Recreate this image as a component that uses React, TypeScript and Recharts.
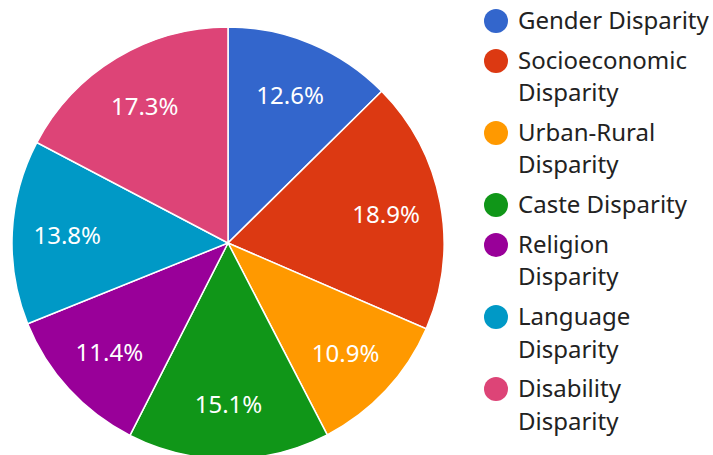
import { PieChart, Pie, Cell } from "recharts";

const categories = [
  "Gender Disparity",
  "Socioeconomic Disparity",
  "Urban-Rural Disparity",
  "Caste Disparity",
  "Religion Disparity",
  "Language Disparity",
  "Disability Disparity",
];
const shares = [12.6, 18.9, 10.9, 15.1, 11.4, 13.8, 17.3];
const colors = ["#3366cc", "#dc3912", "#ff9900", "#109618", "#990099", "#0099c6", "#dd4477"];

const data = categories.map((name, i) => ({ name, value: shares[i] }));

const RAD = Math.PI / 180;

function SliceLabel(props: any) {
  const { cx, cy, midAngle, outerRadius, value } = props;
  const r = outerRadius * 0.745;
  const x = cx + r * Math.cos(-midAngle * RAD);
  const y = cy + r * Math.sin(-midAngle * RAD);
  return (
    <text
      x={x}
      y={y}
      fill="#fff"
      fontSize={24}
      fontFamily="'Noto Sans', sans-serif"
      textAnchor="middle"
      dominantBaseline="central"
    >
      {value.toFixed(1)}%
    </text>
  );
}

export default function App() {
  return (
    <div
      style={{
        position: "absolute",
        left: 0,
        top: 0,
        width: 713,
        height: 455,
        background: "#fff",
        fontFamily: "'Noto Sans', sans-serif",
      }}
    >
      <PieChart width={460} height={455} margin={{ top: 0, right: 0, bottom: 0, left: 0 }}>
        <Pie
          data={data}
          dataKey="value"
          nameKey="name"
          cx={228}
          cy={243}
          outerRadius={216}
          startAngle={90}
          endAngle={-270}
          stroke="#fff"
          strokeWidth={1.5}
          label={SliceLabel}
          labelLine={false}
          isAnimationActive={false}
        >
          {data.map((d, i) => (
            <Cell key={d.name} fill={colors[i]} />
          ))}
        </Pie>
      </PieChart>
      <div style={{ position: "absolute", left: 484, top: 4, width: 229 }}>
        {categories.map((name, i) => (
          <div key={name} style={{ display: "flex", alignItems: "flex-start", marginBottom: 7.4 }}>
            <span
              style={{
                width: 24,
                height: 24,
                borderRadius: "50%",
                background: colors[i],
                marginTop: 5,
                flexShrink: 0,
              }}
            />
            <span
              style={{
                marginLeft: 10,
                fontSize: 24,
                lineHeight: "32.4px",
                color: "#222",
                width: 194,
              }}
            >
              {name}
            </span>
          </div>
        ))}
      </div>
    </div>
  );
}
